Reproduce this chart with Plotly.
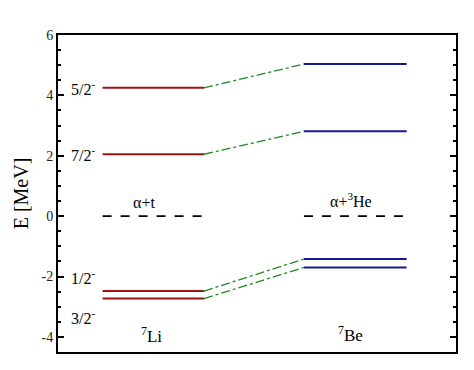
import plotly.graph_objects as go

# Data
spins = ["5/2<sup>-</sup>", "7/2<sup>-</sup>", "1/2<sup>-</sup>", "3/2<sup>-</sup>"]
li_levels = [4.25, 2.05, -2.48, -2.73]
be_levels = [5.04, 2.81, -1.42, -1.70]
threshold = 0.0
li_span = [1.12, 3.67]
be_span = [6.18, 8.76]
y_ticks = [-4, -2, 0, 2, 4, 6]
y_ticktext = ["-4", "-2", "0", "2", "4", "6"]

red = "#9b1313"
blue = "#17178f"
green = "#1f8a1f"
SERIF = "Liberation Serif"

fig = go.Figure()

for e in li_levels:
    fig.add_trace(go.Scatter(x=li_span, y=[e, e], mode="lines",
                             line=dict(color=red, width=2), showlegend=False))
for e in be_levels:
    fig.add_trace(go.Scatter(x=be_span, y=[e, e], mode="lines",
                             line=dict(color=blue, width=2), showlegend=False))
for a, b in zip(li_levels, be_levels):
    fig.add_trace(go.Scatter(x=[li_span[1], be_span[0]], y=[a, b], mode="lines",
                             line=dict(color=green, width=1.3, dash="dashdot"),
                             showlegend=False))
for span in (li_span, be_span):
    fig.add_trace(go.Scatter(x=span, y=[threshold, threshold], mode="lines",
                             line=dict(color="black", width=1.6, dash="dash"),
                             showlegend=False))

# spin labels
label_pos = [(0.62, li_levels[0]), (0.62, li_levels[1]),
             (0.62, li_levels[2] + 0.45), (0.62, li_levels[3] - 0.6)]
for s, (x, y) in zip(spins, label_pos):
    fig.add_annotation(x=x, y=y, text=s, showarrow=False,
                       font=dict(size=16, family=SERIF, color="black"),
                       xanchor="center", yanchor="middle")

fig.add_annotation(x=2.15, y=0.45, text="α+t", showarrow=False,
                   font=dict(size=16, family=SERIF, color="black"))
fig.add_annotation(x=7.35, y=0.55, text="α+<sup>3</sup>He", showarrow=False,
                   font=dict(size=16, family=SERIF, color="black"))
fig.add_annotation(x=2.35, y=-3.95, text="<sup>7</sup>Li", showarrow=False,
                   font=dict(size=17, family=SERIF, color="black"))
fig.add_annotation(x=7.35, y=-3.9, text="<sup>7</sup>Be", showarrow=False,
                   font=dict(size=17, family=SERIF, color="black"))

axis_common = dict(showline=True, linecolor="black", linewidth=2, mirror=False,
                   showgrid=False, zeroline=False, automargin=False)
minor = dict(dtick=0.5, tick0=0, ticks="inside", ticklen=3, tickwidth=1.5,
             tickcolor="black")

fig.update_layout(
    width=474, height=370,
    margin=dict(l=58, r=18, t=35, b=18, autoexpand=False),
    plot_bgcolor="white", paper_bgcolor="white",
    font=dict(family=SERIF, color="black"),
    xaxis=dict(range=[0, 10], showticklabels=False, ticks="", **axis_common),
    yaxis=dict(range=[-4.5, 6], tickvals=y_ticks, ticktext=y_ticktext, ticks="inside",
               ticklen=6, tickwidth=2, tickcolor="black", minor=minor,
               tickfont=dict(size=14, family=SERIF, color="#222222"),
               title=dict(text="E [MeV]", font=dict(size=20, family=SERIF, color="black"),
                          standoff=8),
               **axis_common),
    xaxis2=dict(range=[0, 10], overlaying="x", side="top", showticklabels=False,
                ticks="", **axis_common),
    yaxis2=dict(range=[-4.5, 6], overlaying="y", side="right", showticklabels=False,
                tickvals=y_ticks, ticks="inside", ticklen=6, tickwidth=2,
                tickcolor="black", minor=minor, **axis_common),
)
fig.add_trace(go.Scatter(x=[None], y=[None], xaxis="x2", yaxis="y2", showlegend=False))

fig.write_html("out.html", config={"displayModeBar": False},
               post_script="document.body.style.margin='0';document.body.style.overflow='hidden';")
